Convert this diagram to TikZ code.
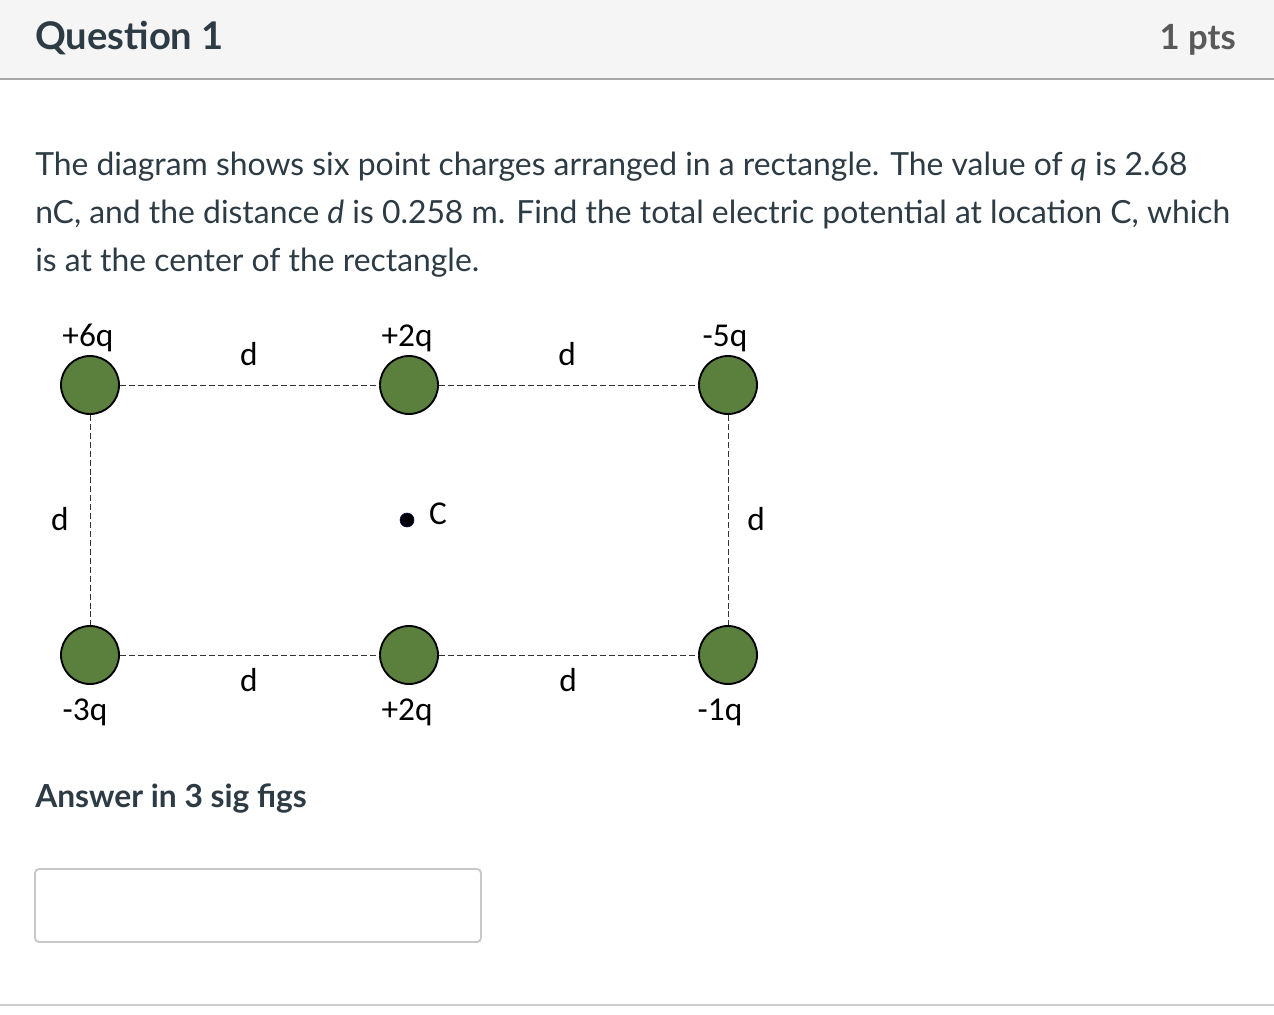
\documentclass[tikz,border=0pt]{standalone}
\usepackage{fontspec}
\setmainfont{Lato}
\newfontfamily\calib{Carlito}
\definecolor{canvastext}{HTML}{2D3B45}
\definecolor{headbg}{HTML}{F5F5F5}
\definecolor{headline}{HTML}{A8A8A8}
\definecolor{chargegreen}{HTML}{5B7F3D}
\definecolor{boxborder}{HTML}{C8C8C8}
\begin{document}
\begin{tikzpicture}[x=0.75pt,y=-0.75pt,
  charge/.style={circle,draw=black,line width=1.4pt,fill=chargegreen,minimum size=43.5pt,inner sep=0pt},
  lbl/.style={font=\calib\fontsize{25}{28}\selectfont,text=black,inner sep=0pt,anchor=base},
  body/.style={font=\fontsize{23.9}{28}\selectfont,text=canvastext,inner sep=0pt,anchor=base west},
  dline/.style={dashed,dash pattern=on 4.5pt off 2.2pt,line width=0.6pt,draw=black!80}]
\useasboundingbox (0,0) rectangle (1274,1014);
\fill[white] (0,0) rectangle (1274,1014);
% header
\fill[headbg] (0,0) rectangle (1274,78);
\draw[headline,line width=1.5pt] (0,79) -- (1274,79);
\node[body,font=\bfseries\fontsize{28.6}{32}\selectfont] (qtitle) at (35,49) {Question 1};
\node[body,anchor=base east,text=black!65,font=\bfseries\fontsize{26}{30}\selectfont] (pts) at (1236,49) {1 pts};
% question text
\node[body] (t1) at (35,175) {The diagram shows six point charges arranged in a rectangle. The value of \emph{q} is 2.68};
\node[body] (t2) at (35,223) {nC, and the distance \emph{d} is 0.258 m. Find the total electric potential at location C, which};
\node[body] (t3) at (35,271) {is at the center of the rectangle.};
% charges
\node[charge] (c1) at (90,385) {};
\node[charge] (c2) at (409,385) {};
\node[charge] (c3) at (728,385) {};
\node[charge] (c4) at (90,655) {};
\node[charge] (c5) at (409,655) {};
\node[charge] (c6) at (728,655) {};
% dashed sides
\draw[dline] (c1) -- (c2);
\draw[dline] (c2) -- (c3);
\draw[dline] (c4) -- (c5);
\draw[dline] (c5) -- (c6);
\draw[dline] (c1) -- (c4);
\draw[dline] (c3) -- (c6);
% charge labels
\node[lbl] (l1) at (88,346) {+6q};
\node[lbl] (l2) at (407,346) {+2q};
\node[lbl] (l3) at (725,346) {-5q};
\node[lbl] (l4) at (85,720) {-3q};
\node[lbl] (l5) at (407,720) {+2q};
\node[lbl] (l6) at (720,720) {-1q};
% distance labels
\node[lbl] (d1) at (249,365) {d};
\node[lbl] (d2) at (567,365) {d};
\node[lbl] (d3) at (60,530) {d};
\node[lbl] (d4) at (756,530) {d};
\node[lbl] (d5) at (249,691) {d};
\node[lbl] (d6) at (568,691) {d};
% center
\node[circle,fill=black,draw=blue!40!black,inner sep=0pt,minimum size=10.5pt] (cdot) at (407,520) {};
\node[lbl] (clbl) at (438,524) {C};
% answer
\node[body,font=\bfseries\fontsize{23.8}{28}\selectfont] (ans) at (35,807) {Answer in 3 sig figs};
\draw[boxborder,line width=1.4pt,rounded corners=3pt,fill=white] (35,869) rectangle (481,942);
\draw[black!20,line width=1.2pt] (0,1005) -- (1274,1005);
\end{tikzpicture}
\end{document}
